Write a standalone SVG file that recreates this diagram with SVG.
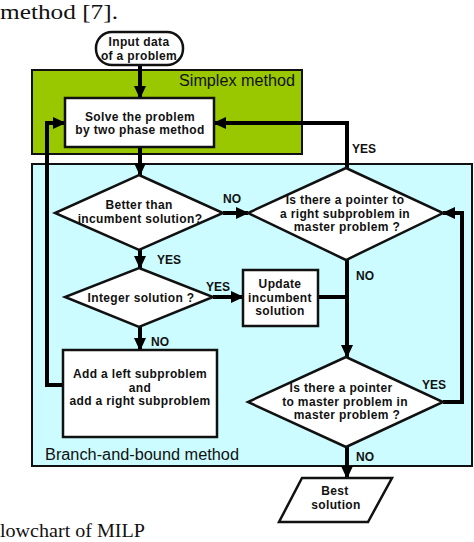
<svg xmlns="http://www.w3.org/2000/svg" width="474" height="542" viewBox="0 0 474 542">
<defs>
<style>
.cap{font-family:"Liberation Serif","Times New Roman",serif;fill:#111}
.t{font-family:"Liberation Sans",Arial,sans-serif;font-weight:bold;font-size:12px;letter-spacing:0.35px;fill:#111;text-anchor:middle}
.lb{font-family:"Liberation Sans",Arial,sans-serif;font-weight:bold;font-size:12px;fill:#111}
.grp{font-family:"Liberation Sans",Arial,sans-serif;font-size:16px;fill:#111}
.box{fill:#fff;stroke:#111;stroke-width:2.5}
.dia{fill:#fff;stroke:#111;stroke-width:2.5;stroke-linejoin:miter}
.c{fill:none;stroke:#000;stroke-width:4;stroke-linejoin:miter}
</style>
<marker id="ah" markerUnits="userSpaceOnUse" markerWidth="13" markerHeight="12" refX="12" refY="6" orient="auto">
<path d="M0,0 L13,6 L0,12 z" fill="#000"/>
</marker>
</defs>
<rect width="474" height="542" fill="#fff"/>
<text class="cap" x="0" y="19" font-size="22" textLength="118" lengthAdjust="spacingAndGlyphs">method [7].</text>
<text class="cap" x="0" y="537" font-size="19" textLength="145" lengthAdjust="spacingAndGlyphs">lowchart of MILP</text>

<g id="simplex-region">
<rect x="32" y="70" width="270" height="84" fill="#99c800" stroke="#111" stroke-width="2"/>
<text class="grp" x="295" y="86" text-anchor="end" textLength="116" lengthAdjust="spacingAndGlyphs">Simplex method</text>
</g>
<g id="bb-region">
<rect x="32" y="164" width="440" height="302" fill="#ccfcff" stroke="#111" stroke-width="2"/>
<text class="grp" x="45" y="460" textLength="194" lengthAdjust="spacingAndGlyphs">Branch-and-bound method</text>
</g>

<g id="connectors">
<path class="c" d="M140,65 V98" marker-end="url(#ah)"/>
<path class="c" d="M140,147 V175" marker-end="url(#ah)"/>
<path class="c" d="M223,213 H248" marker-end="url(#ah)"/>
<path class="c" d="M140,250 V268" marker-end="url(#ah)"/>
<path class="c" d="M213,297 H243" marker-end="url(#ah)"/>
<path class="c" d="M140,327 V350" marker-end="url(#ah)"/>
<path class="c" d="M63,385 H47 V123 H65" marker-end="url(#ah)"/>
<path class="c" d="M347,168 V123 H214" marker-end="url(#ah)"/>
<path class="c" d="M347,260 V357" marker-end="url(#ah)"/>
<path class="c" d="M318,297 H347" stroke-width="3"/>
<path class="c" d="M443,402 H462 V213 H443" marker-end="url(#ah)"/>
<path class="c" d="M347,447 V478" marker-end="url(#ah)"/>
<text class="lb" x="352" y="153">YES</text>
<text class="lb" x="223" y="203">NO</text>
<text class="lb" x="157" y="264">YES</text>
<text class="lb" x="356" y="280">NO</text>
<text class="lb" x="206" y="291">YES</text>
<text class="lb" x="151" y="346">NO</text>
<text class="lb" x="422" y="389">YES</text>
<text class="lb" x="356" y="461">NO</text>
</g>

<g id="input">
<rect x="96" y="32" width="87" height="33" rx="16" ry="16" class="box"/>
<text class="t" x="139" y="46">Input data</text>
<text class="t" x="139" y="59.5">of a problem</text>
</g>
<g id="solve">
<rect x="65" y="98" width="149" height="49" class="box"/>
<text class="t" x="140" y="120.5">Solve the problem</text>
<text class="t" x="140" y="134">by two phase method</text>
</g>
<g id="better">
<polygon class="dia" points="139,175 223,213 139,250 55,213"/>
<text class="t" x="139" y="209">Better than</text>
<text class="t" x="140" y="223">incumbent solution?</text>
</g>
<g id="pointer-right">
<polygon class="dia" points="346,168 443,213 346,260 248,213"/>
<text class="t" x="345" y="204">Is there a pointer to</text>
<text class="t" x="345" y="217.5">a right subproblem in</text>
<text class="t" x="347" y="231">master problem ?</text>
</g>
<g id="integer">
<polygon class="dia" points="139,268 213,297 139,327 65,297"/>
<text class="t" x="141" y="301.5">Integer solution ?</text>
</g>
<g id="update">
<rect x="243" y="270" width="75" height="56" class="box"/>
<text class="t" x="280" y="288">Update</text>
<text class="t" x="280" y="301.5">incumbent</text>
<text class="t" x="280" y="315">solution</text>
</g>
<g id="add">
<rect x="63" y="350" width="154" height="87" class="box"/>
<text class="t" x="140" y="378">Add a left subproblem</text>
<text class="t" x="140" y="391.5">and</text>
<text class="t" x="140" y="405">add a right subproblem</text>
</g>
<g id="pointer-master">
<polygon class="dia" points="346,357 443,402 346,447 248,402"/>
<text class="t" x="341" y="392">Is there a pointer</text>
<text class="t" x="345" y="405.5">to master problem in</text>
<text class="t" x="347" y="419">master problem ?</text>
</g>
<g id="best">
<polygon class="box" points="302,478 392,478 368,522 279,522"/>
<text class="t" x="335" y="495">Best</text>
<text class="t" x="336" y="508.5">solution</text>
</g>
</svg>
